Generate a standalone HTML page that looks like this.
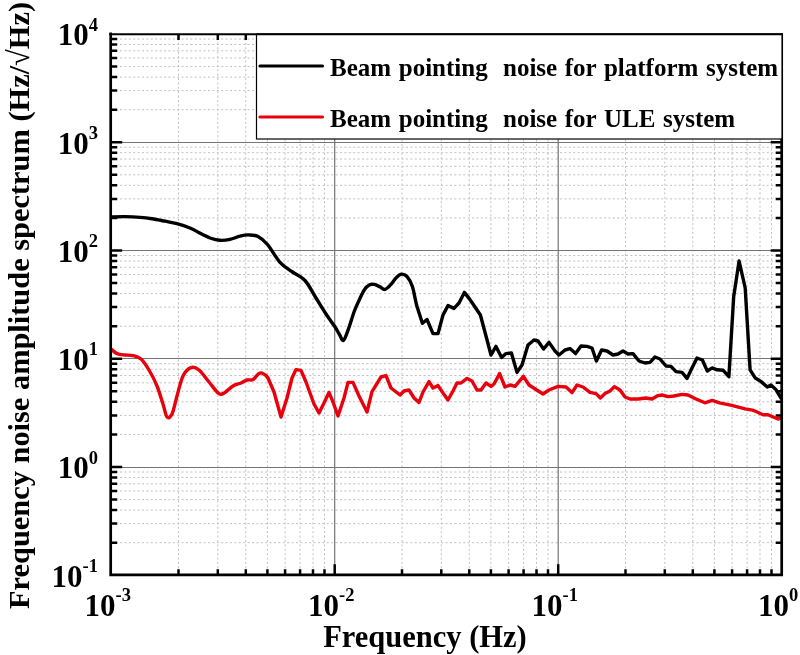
<!DOCTYPE html><html><head><meta charset="utf-8"><style>html,body{margin:0;padding:0;background:#fff;overflow:hidden}</style></head><body><svg width="800" height="655" viewBox="0 0 800 655" style="display:block">
<rect width="800" height="655" fill="#fff"/>
<path d="M178.5,34.0V575.2M217.8,34.0V575.2M245.8,34.0V575.2M267.4,34.0V575.2M285.1,34.0V575.2M300.1,34.0V575.2M313.0,34.0V575.2M324.5,34.0V575.2M402.0,34.0V575.2M441.3,34.0V575.2M469.3,34.0V575.2M490.9,34.0V575.2M508.6,34.0V575.2M523.6,34.0V575.2M536.5,34.0V575.2M548.0,34.0V575.2M625.5,34.0V575.2M664.8,34.0V575.2M692.8,34.0V575.2M714.4,34.0V575.2M732.1,34.0V575.2M747.1,34.0V575.2M760.0,34.0V575.2M771.5,34.0V575.2M111.2,542.7H781.7M111.2,523.6H781.7M111.2,510.1H781.7M111.2,499.6H781.7M111.2,491.0H781.7M111.2,483.8H781.7M111.2,477.5H781.7M111.2,472.0H781.7M111.2,434.4H781.7M111.2,415.4H781.7M111.2,401.8H781.7M111.2,391.3H781.7M111.2,382.8H781.7M111.2,375.5H781.7M111.2,369.2H781.7M111.2,363.7H781.7M111.2,326.2H781.7M111.2,307.1H781.7M111.2,293.6H781.7M111.2,283.1H781.7M111.2,274.5H781.7M111.2,267.3H781.7M111.2,261.0H781.7M111.2,255.5H781.7M111.2,217.9H781.7M111.2,198.9H781.7M111.2,185.3H781.7M111.2,174.8H781.7M111.2,166.3H781.7M111.2,159.0H781.7M111.2,152.7H781.7M111.2,147.2H781.7M111.2,109.7H781.7M111.2,90.6H781.7M111.2,77.1H781.7M111.2,66.6H781.7M111.2,58.0H781.7M111.2,50.8H781.7M111.2,44.5H781.7M111.2,39.0H781.7" stroke="#c0c0c0" stroke-width="1" stroke-dasharray="2 2.4" fill="none"/>
<path d="M334.7,34.0V575.2M558.2,34.0V575.2M111.2,467.5H781.7M111.2,358.5H781.7M111.2,250.5H781.7M111.2,142.5H781.7" stroke="#747474" stroke-width="1.2" fill="none"/>
<path d="M178.5,575.2v-6M178.5,34.0v6M217.8,575.2v-6M217.8,34.0v6M245.8,575.2v-6M245.8,34.0v6M267.4,575.2v-6M267.4,34.0v6M285.1,575.2v-6M285.1,34.0v6M300.1,575.2v-6M300.1,34.0v6M313.0,575.2v-6M313.0,34.0v6M324.5,575.2v-6M324.5,34.0v6M334.7,575.2v-11M334.7,34.0v11M402.0,575.2v-6M402.0,34.0v6M441.3,575.2v-6M441.3,34.0v6M469.3,575.2v-6M469.3,34.0v6M490.9,575.2v-6M490.9,34.0v6M508.6,575.2v-6M508.6,34.0v6M523.6,575.2v-6M523.6,34.0v6M536.5,575.2v-6M536.5,34.0v6M548.0,575.2v-6M548.0,34.0v6M558.2,575.2v-11M558.2,34.0v11M625.5,575.2v-6M625.5,34.0v6M664.8,575.2v-6M664.8,34.0v6M692.8,575.2v-6M692.8,34.0v6M714.4,575.2v-6M714.4,34.0v6M732.1,575.2v-6M732.1,34.0v6M747.1,575.2v-6M747.1,34.0v6M760.0,575.2v-6M760.0,34.0v6M771.5,575.2v-6M771.5,34.0v6M111.2,542.7h6M781.7,542.7h-6M111.2,523.6h6M781.7,523.6h-6M111.2,510.1h6M781.7,510.1h-6M111.2,499.6h6M781.7,499.6h-6M111.2,491.0h6M781.7,491.0h-6M111.2,483.8h6M781.7,483.8h-6M111.2,477.5h6M781.7,477.5h-6M111.2,472.0h6M781.7,472.0h-6M111.2,467.0h11M781.7,467.0h-11M111.2,434.4h6M781.7,434.4h-6M111.2,415.4h6M781.7,415.4h-6M111.2,401.8h6M781.7,401.8h-6M111.2,391.3h6M781.7,391.3h-6M111.2,382.8h6M781.7,382.8h-6M111.2,375.5h6M781.7,375.5h-6M111.2,369.2h6M781.7,369.2h-6M111.2,363.7h6M781.7,363.7h-6M111.2,358.8h11M781.7,358.8h-11M111.2,326.2h6M781.7,326.2h-6M111.2,307.1h6M781.7,307.1h-6M111.2,293.6h6M781.7,293.6h-6M111.2,283.1h6M781.7,283.1h-6M111.2,274.5h6M781.7,274.5h-6M111.2,267.3h6M781.7,267.3h-6M111.2,261.0h6M781.7,261.0h-6M111.2,255.5h6M781.7,255.5h-6M111.2,250.5h11M781.7,250.5h-11M111.2,217.9h6M781.7,217.9h-6M111.2,198.9h6M781.7,198.9h-6M111.2,185.3h6M781.7,185.3h-6M111.2,174.8h6M781.7,174.8h-6M111.2,166.3h6M781.7,166.3h-6M111.2,159.0h6M781.7,159.0h-6M111.2,152.7h6M781.7,152.7h-6M111.2,147.2h6M781.7,147.2h-6M111.2,142.2h11M781.7,142.2h-11M111.2,109.7h6M781.7,109.7h-6M111.2,90.6h6M781.7,90.6h-6M111.2,77.1h6M781.7,77.1h-6M111.2,66.6h6M781.7,66.6h-6M111.2,58.0h6M781.7,58.0h-6M111.2,50.8h6M781.7,50.8h-6M111.2,44.5h6M781.7,44.5h-6M111.2,39.0h6M781.7,39.0h-6" stroke="#000" stroke-width="2.5" fill="none"/>
<path d="M111.0,217.0 C113.3,216.9 120.2,216.5 125.0,216.6 C129.8,216.7 135.5,217.0 140.0,217.4 C144.5,217.8 147.8,218.2 152.0,218.8 C156.2,219.4 160.8,220.4 165.0,221.2 C169.2,222.0 172.8,222.5 177.0,223.6 C181.2,224.7 185.8,226.2 190.0,228.0 C194.2,229.8 199.2,232.7 202.5,234.4 C205.8,236.1 207.1,237.0 210.0,238.0 C212.9,239.0 216.7,240.1 220.0,240.3 C223.3,240.5 226.7,240.1 230.0,239.4 C233.3,238.7 236.9,236.9 240.0,236.2 C243.1,235.4 245.8,234.8 248.8,234.9 C251.8,235.0 254.9,234.9 258.0,236.5 C261.1,238.1 263.8,240.2 267.5,244.5 C271.2,248.8 275.8,257.7 280.0,262.3 C284.2,266.9 288.3,269.0 292.5,272.0 C296.7,275.0 301.1,276.2 305.0,280.5 C308.9,284.8 312.5,292.4 316.0,298.0 C319.5,303.6 322.9,309.3 326.0,314.0 C329.1,318.7 332.4,323.0 334.6,326.3 C336.8,329.6 337.7,331.6 339.2,334.0 C340.7,336.4 341.9,341.2 343.4,340.4 C344.9,339.6 346.5,334.3 348.3,329.4 C350.1,324.5 352.6,315.8 354.4,311.0 C356.2,306.2 357.3,303.9 359.0,300.4 C360.7,296.8 362.6,292.3 364.4,289.7 C366.2,287.1 368.0,285.7 369.7,284.8 C371.4,283.9 372.6,284.1 374.3,284.4 C376.0,284.7 377.8,285.8 379.6,286.6 C381.4,287.4 383.1,289.8 385.0,289.4 C386.9,289.0 389.1,286.4 391.0,284.4 C392.9,282.4 394.6,279.2 396.4,277.5 C398.1,275.8 399.7,274.2 401.5,274.1 C403.3,274.0 405.3,274.6 407.1,276.7 C408.9,278.8 410.8,281.6 412.4,286.6 C414.0,291.6 415.3,300.4 417.0,306.5 L422.4,323.3 L427.0,319.5 L433.0,333.6 L438.0,333.6 L443.0,315.0 L448.0,305.6 L454.0,308.4 L459.0,303.0 L464.4,292.4 L470.0,299.6 L475.0,307.0 L480.4,315.0 L486.0,336.0 L491.0,355.0 L496.0,346.4 L501.6,357.6 L506.0,353.6 L511.4,353.0 L517.0,372.4 L522.0,365.0 L528.0,345.0 L534.0,340.0 L538.0,341.0 L543.6,349.0 L549.0,342.4 L555.0,351.0 L559.0,355.0 L565.0,350.0 L570.0,348.6 L575.6,353.6 L581.0,346.0 L587.0,346.4 L592.0,348.0 L596.4,361.0 L601.6,350.0 L607.0,351.0 L613.0,355.0 L618.0,354.0 L623.0,351.0 L628.0,354.0 L633.0,353.6 L639.0,361.0 L645.0,363.0 L650.0,362.4 L655.0,357.0 L660.0,359.0 L666.0,366.0 L671.0,366.4 L676.0,371.6 L682.0,372.4 L687.0,378.4 L692.0,368.0 L697.0,358.0 L702.4,360.0 L707.3,371.0 L712.2,367.9 L717.0,369.8 L723.2,370.3 L728.9,376.7 L733.7,296.5 L739.1,261.0 L745.2,288.0 L750.1,369.8 L755.0,377.7 L761.1,381.6 L767.3,387.0 L770.9,385.0 L775.8,389.4 L781.5,399.0" stroke="#000" stroke-width="3.4" fill="none" stroke-linejoin="round" stroke-linecap="butt"/>
<path d="M111.0,349.0 C112.0,349.8 114.7,352.6 117.0,353.6 C119.3,354.6 122.3,354.7 125.0,355.0 C127.7,355.3 130.3,354.9 133.0,355.6 C135.7,356.3 138.3,356.6 141.0,359.0 C143.7,361.4 146.3,365.5 149.0,370.0 C151.7,374.5 154.7,380.3 157.0,386.0 C159.3,391.7 161.3,398.8 163.0,404.0 C164.7,409.2 165.5,415.3 167.0,417.0 C168.5,418.7 170.3,417.5 172.0,414.0 C173.7,410.5 175.2,402.3 177.0,396.0 C178.8,389.7 180.7,380.7 183.0,376.0 C185.3,371.3 188.3,368.6 191.0,367.6 C193.7,366.6 196.0,367.6 199.0,370.0 C202.0,372.4 205.7,378.1 209.0,382.0 C212.3,385.9 216.3,391.9 219.0,393.6 C221.7,395.3 222.7,393.7 225.0,392.4 C227.3,391.1 230.3,387.6 233.0,386.0 C235.7,384.4 238.7,384.0 241.0,383.0 C243.3,382.0 245.0,380.6 247.0,380.0 C249.0,379.4 251.2,380.5 253.0,379.6 C254.8,378.7 256.5,375.5 258.0,374.4 C259.5,373.3 260.3,372.4 262.0,373.0 C263.7,373.6 266.0,374.8 268.0,378.0 L274.0,392.0 L281.0,417.0 L287.0,398.0 L292.0,378.0 L296.0,369.6 L301.0,370.4 L306.0,382.0 L314.0,404.0 L319.0,413.0 L324.0,403.0 L329.0,392.4 L333.0,402.0 L338.0,416.0 L344.0,398.0 L348.0,382.4 L353.0,382.4 L359.0,396.0 L367.0,412.0 L372.0,391.6 L381.0,377.0 L386.0,375.6 L391.0,388.0 L400.0,395.0 L404.0,391.0 L409.0,390.0 L414.0,398.0 L419.0,402.4 L423.0,392.0 L429.0,381.6 L433.0,388.0 L438.0,385.6 L443.0,393.0 L448.0,400.0 L453.0,391.0 L457.0,383.0 L461.0,383.0 L467.0,378.4 L472.0,381.0 L477.0,390.0 L481.0,390.0 L486.0,383.0 L491.0,386.4 L494.0,384.0 L499.6,373.6 L505.0,387.0 L510.0,385.0 L515.0,386.4 L523.4,376.4 L529.0,385.0 L543.0,394.0 L549.0,390.0 L558.0,386.4 L566.0,387.0 L572.0,392.6 L577.0,385.0 L583.0,387.0 L590.0,392.4 L596.0,393.6 L600.4,398.0 L605.0,393.6 L610.0,391.0 L614.4,386.6 L620.0,390.0 L625.0,397.0 L630.0,399.0 L638.0,399.0 L646.0,398.0 L652.0,399.0 L658.0,395.6 L662.0,395.0 L668.0,396.6 L674.0,396.0 L682.0,394.4 L688.0,395.0 L696.0,399.0 L704.9,402.8 L712.2,400.4 L719.6,402.8 L731.8,405.3 L745.0,408.8 L752.6,410.2 L756.0,411.5 L763.0,414.8 L768.0,414.8 L778.0,419.0 L781.5,418.0" stroke="#e8000c" stroke-width="3.4" fill="none" stroke-linejoin="round" stroke-linecap="butt"/>
<path d="M110.7,32.5V576.1M109.3,574.8H783M781.7,33.2V576.1" stroke="#000" stroke-width="2.7" fill="none"/>
<rect x="256.5" y="34.0" width="525.5" height="105.0" fill="#fff" stroke="#000" stroke-width="1.2"/>
<path d="M109.3,34.2H783" stroke="#000" stroke-width="2.1"/>
<path d="M260,66H322.5" stroke="#000" stroke-width="3.2" stroke-linecap="round"/>
<path d="M260,117H322.5" stroke="#e8000c" stroke-width="3.2" stroke-linecap="round"/>
<text x="330" y="75.7" font-family="'Liberation Serif', 'Times New Roman', serif" font-weight="bold" font-size="25" word-spacing="1.4" xml:space="preserve">Beam pointing  noise for platform system</text>
<text x="330" y="126.8" font-family="'Liberation Serif', 'Times New Roman', serif" font-weight="bold" font-size="25" word-spacing="1.4" xml:space="preserve">Beam pointing  noise for ULE system</text>
<text x="98" y="45.3" text-anchor="end" font-family="'Liberation Serif', 'Times New Roman', serif" font-weight="bold" font-size="31">10<tspan font-size="18.5" dy="-14.7">4</tspan></text>
<text x="98" y="153.6" text-anchor="end" font-family="'Liberation Serif', 'Times New Roman', serif" font-weight="bold" font-size="31">10<tspan font-size="18.5" dy="-14.7">3</tspan></text>
<text x="98" y="261.8" text-anchor="end" font-family="'Liberation Serif', 'Times New Roman', serif" font-weight="bold" font-size="31">10<tspan font-size="18.5" dy="-14.7">2</tspan></text>
<text x="98" y="370.1" text-anchor="end" font-family="'Liberation Serif', 'Times New Roman', serif" font-weight="bold" font-size="31">10<tspan font-size="18.5" dy="-14.7">1</tspan></text>
<text x="98" y="478.3" text-anchor="end" font-family="'Liberation Serif', 'Times New Roman', serif" font-weight="bold" font-size="31">10<tspan font-size="18.5" dy="-14.7">0</tspan></text>
<text x="98" y="586.5" text-anchor="end" font-family="'Liberation Serif', 'Times New Roman', serif" font-weight="bold" font-size="31">10<tspan font-size="18.5" dy="-14.7">-1</tspan></text>
<text x="107.7" y="615.8" text-anchor="middle" font-family="'Liberation Serif', 'Times New Roman', serif" font-weight="bold" font-size="31">10<tspan font-size="18.5" dy="-14.7">-3</tspan></text>
<text x="331.2" y="615.8" text-anchor="middle" font-family="'Liberation Serif', 'Times New Roman', serif" font-weight="bold" font-size="31">10<tspan font-size="18.5" dy="-14.7">-2</tspan></text>
<text x="554.7" y="615.8" text-anchor="middle" font-family="'Liberation Serif', 'Times New Roman', serif" font-weight="bold" font-size="31">10<tspan font-size="18.5" dy="-14.7">-1</tspan></text>
<text x="778.2" y="615.8" text-anchor="middle" font-family="'Liberation Serif', 'Times New Roman', serif" font-weight="bold" font-size="31">10<tspan font-size="18.5" dy="-14.7">0</tspan></text>
<text x="425" y="646.5" text-anchor="middle" font-family="'Liberation Serif', 'Times New Roman', serif" font-weight="bold" font-size="30.5">Frequency (Hz)</text>
<text transform="translate(28.8,305.5) rotate(-90)" text-anchor="middle" font-family="'Liberation Serif', 'Times New Roman', serif" font-weight="bold" font-size="30.4">Frequency noise amplitude spectrum (Hz/√Hz)</text>
</svg></body></html>
